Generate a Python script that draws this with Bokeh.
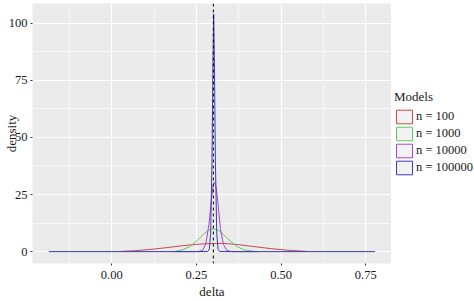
from bokeh.plotting import figure
from bokeh.layouts import row
from bokeh.models import Range1d, FixedTicker, Span, Legend, LegendItem, NumeralTickFormatter
from bokeh.embed import file_html
from bokeh.resources import INLINE

# ---- data ----
x_ticks = [0.00, 0.25, 0.50, 0.75]
x_minor = [-0.125, 0.125, 0.375, 0.625]
y_ticks = [0, 25, 50, 75, 100]
y_minor = [12.5, 37.5, 62.5, 87.5]
model_labels = ["n = 100", "n = 1000", "n = 10000", "n = 100000"]
true_delta = 0.30

red_x = [0.027, 0.070, 0.110, 0.160, 0.210, 0.260, 0.300, 0.330, 0.370, 0.420, 0.470, 0.520, 0.577]
red_y = [0.1, 0.4, 0.9, 1.7, 2.6, 3.3, 3.6, 3.6, 3.1, 2.2, 1.3, 0.6, 0.1]

green_x = [0.190, 0.210, 0.230, 0.250, 0.270, 0.285, 0.300, 0.315, 0.330, 0.350, 0.370, 0.390, 0.420]
green_y = [0.2, 0.8, 2.2, 4.6, 7.5, 9.3, 10.0, 9.3, 7.5, 4.6, 2.2, 0.8, 0.1]

purple_x = [0.180, 0.255, 0.268, 0.278, 0.287, 0.295, 0.300, 0.304, 0.308, 0.313, 0.321, 0.330, 0.340, 0.355, 0.430]
purple_y = [0.0, 0.0, 0.5, 3.5, 12.0, 24.0, 29.5, 30.5, 28.5, 22.0, 10.0, 3.0, 0.5, 0.0, 0.0]

blue_x = [-0.186, 0.250, 0.284, 0.288, 0.292, 0.296, 0.299, 0.301, 0.303, 0.306, 0.310, 0.314, 0.318, 0.350, 0.778]
blue_y = [0.0, 0.0, 0.1, 1.0, 8.0, 40.0, 85.0, 104.0, 85.0, 40.0, 8.0, 1.0, 0.1, 0.0, 0.0]

colors = ["#BE4F4A", "#5CC85C", "#A445C8", "#3C3CB4"]
series_x = [red_x, green_x, purple_x, blue_x]
series_y = [red_y, green_y, purple_y, blue_y]

FONT = "Liberation Serif"
TXT = "#1a1a1a"

# ---- main panel ----
p = figure(width=391, height=301, output_backend="svg", toolbar_location=None,
           x_range=Range1d(-0.234, 0.826), y_range=Range1d(-5.2, 108.6),
           min_border_left=0, min_border_right=0, min_border_top=3, min_border_bottom=38)
p.background_fill_color = "#EBEBEB"
p.border_fill_color = "white"
p.outline_line_color = None

p.xaxis.ticker = FixedTicker(ticks=x_ticks, minor_ticks=x_minor)
p.yaxis.ticker = FixedTicker(ticks=y_ticks, minor_ticks=y_minor)
p.xaxis.formatter = NumeralTickFormatter(format="0.00")

for ax in (p.xaxis, p.yaxis):
    ax.axis_line_color = None
    ax.major_tick_line_color = "#333333"
    ax.major_tick_out = 2
    ax.major_tick_in = 0
    ax.minor_tick_line_color = None
    ax.major_label_text_font = FONT
    ax.major_label_text_font_size = "12.5px"
    ax.major_label_text_color = TXT
    ax.axis_label_text_font = FONT
    ax.axis_label_text_font_size = "13px"
    ax.axis_label_text_font_style = "normal"
    ax.axis_label_text_color = TXT

p.yaxis.major_label_standoff = 1
p.yaxis.axis_label_standoff = -13
p.yaxis.axis_label = "density"
p.xaxis.major_label_standoff = 3
p.xaxis.axis_label_standoff = 2
p.xaxis.axis_label = "delta"

for g in (p.xgrid, p.ygrid):
    g.grid_line_color = "white"
    g.grid_line_width = 1.2
    g.minor_grid_line_color = "white"
    g.minor_grid_line_width = 0.6

for xs, ys, c in zip(series_x, series_y, colors):
    p.line(xs, ys, line_color=c, line_width=1)

p.add_layout(Span(location=true_delta, dimension="height", line_color="black",
                  line_dash="3 3", line_width=1))

# ---- legend strip ----
p2 = figure(width=83, height=301, output_backend="svg", toolbar_location=None,
            x_range=Range1d(0, 1), y_range=Range1d(0, 1), min_border=0)
p2.axis.visible = False
p2.grid.visible = False
p2.outline_line_color = None
p2.background_fill_color = "white"

items = []
for lab, c in zip(model_labels, colors):
    r = p2.rect(x=[5.0], y=[5.0], width=0.01, height=0.01, fill_color="#F2F2F2",
                line_color=c, line_width=1)
    items.append(LegendItem(label=lab, renderers=[r]))

legend = Legend(items=items, location=(3, 87), title="Models",
                title_text_font=FONT, title_text_font_size="13px", title_text_font_style="normal",
                title_standoff=3, title_text_color=TXT,
                label_text_font=FONT, label_text_font_size="12.5px", label_text_color=TXT,
                glyph_width=20, glyph_height=17, spacing=0, padding=2, margin=0,
                label_standoff=2, border_line_color=None, background_fill_color="white")
p2.add_layout(legend)

layout = row(p, p2, spacing=0)
open("out.html", "w").write(file_html(layout, INLINE))
